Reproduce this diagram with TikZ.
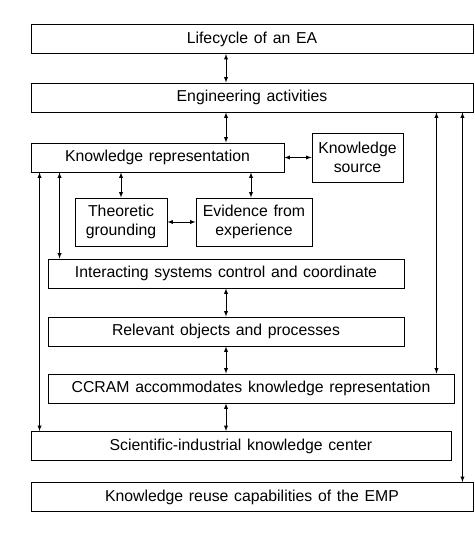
\documentclass[tikz,border=0pt]{standalone}
\usepackage{fontspec}
\setmainfont{Liberation Sans}[WordSpace={1.3}]
\usetikzlibrary{positioning}
\begin{document}
\begin{tikzpicture}[
        x=1pt, y=-1pt, % единицы как пиксели, y вниз
        box/.style = {draw, line width=0.9pt, inner sep=0pt, align=center, minimum height=29pt, font=\fontsize{15.8}{19}\selectfont}, % Стиль блоков
        link/.style = {draw, line width=0.9pt, latex-latex},
    ]
    \useasboundingbox (0,0) rectangle (474,551);

    \node[box, minimum width=442pt] (life) at (252,39) {Lifecycle of an EA};
    \node[box, minimum width=442pt] (eng) at (252,97.5) {Engineering activities};
    \node[box, minimum width=253pt] (krep) at (157.5,157.5) {Knowledge representation};
    \node[box, minimum width=91pt, minimum height=49pt] (ksrc) at (357.5,157.5) {Knowledge\\source};
    \node[box, minimum width=92pt, minimum height=48pt] (theo) at (121,222) {Theoretic\\grounding};
    \node[box, minimum width=116pt, minimum height=48pt] (evid) at (254,222) {Evidence from\\experience};
    \node[box, minimum width=356pt] (inter) at (226,273.5) {Interacting systems control and coordinate};
    \node[box, minimum width=356pt] (relev) at (226,331.5) {Relevant objects and processes};
    \node[box, minimum width=406pt] (ccram) at (251,388.5) {CCRAM accommodates knowledge representation};
    \node[box, minimum width=420pt] (sci) at (241,446) {Scientific-industrial knowledge center};
    \node[box, minimum width=442pt] (reuse) at (252,497) {Knowledge reuse capabilities of the EMP};

    % центральная ось
    \draw[link] (life.south -| inter.north) -- (eng.north -| inter.north);
    \draw[link] (eng.south -| inter.north) -- (krep.north -| inter.north);
    \draw[link] (inter.south) -- (relev.north);
    \draw[link] (relev.south) -- (relev.south |- ccram.north);
    \draw[link] (ccram.south -| inter.north) -- (sci.north -| inter.north);

    % вокруг представления знаний
    \draw[link] (krep.east) -- (ksrc.west);
    \draw[link] (krep.south -| theo.north) -- (theo.north);
    \draw[link] ([xshift=-3pt]krep.south -| evid.north) -- ([xshift=-3pt]evid.north);
    \draw[link] (theo.east) -- (evid.west);

    % боковые связи
    \draw[link] ([xshift=9pt]krep.south west) -- ([xshift=9pt]krep.south west |- sci.north);
    \draw[link] ([xshift=29pt]krep.south west) -- ([xshift=29pt]krep.south west |- inter.north);
    \draw[link] ([xshift=-37pt]eng.south east) -- ([xshift=-37pt]eng.south east |- ccram.north);
    \draw[link] ([xshift=-11pt]eng.south east) -- ([xshift=-11pt]eng.south east |- reuse.north);
\end{tikzpicture}
\end{document}
